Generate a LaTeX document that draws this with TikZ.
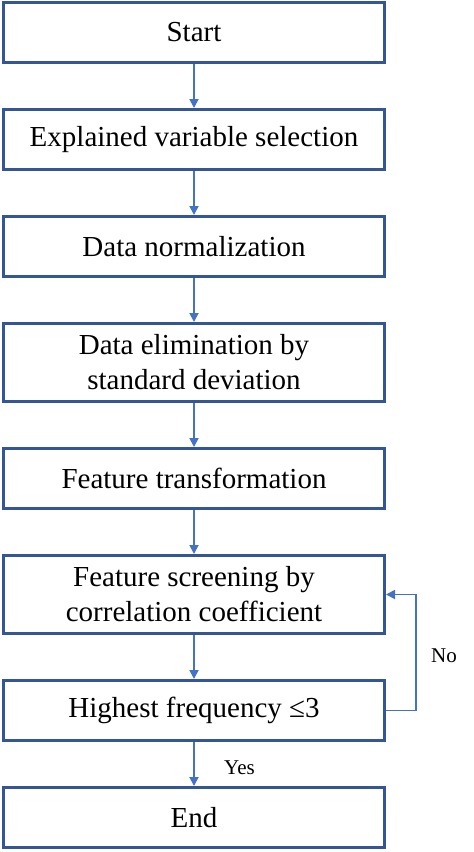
\documentclass[tikz,border=0pt]{standalone}
\usepackage{fontspec}
\setmainfont{Liberation Serif}
\usepackage{xcolor}
\usetikzlibrary{positioning, arrows.meta, calc}

\definecolor{boxblue}{RGB}{52,86,150}
\definecolor{arrowblue}{RGB}{68,114,196}

\begin{document}
\begin{tikzpicture}[
		x=1pt, y=1pt,
		>={Triangle[length=9pt,width=9pt]},
		node distance=44pt,
		stepbox/.style={draw=boxblue, line width=2.6pt, minimum width=381.4pt, minimum height=60.4pt,
			align=center, font=\fontsize{29}{35}\selectfont, inner sep=2pt},
		tallbox/.style={stepbox, minimum height=78.4pt},
		flow/.style={->, arrowblue, line width=1.8pt},
		answer/.style={text=black, font=\fontsize{21}{25}\selectfont}
		]
		
		\useasboundingbox (0,0) rectangle (474,-852);
		
		% ==========================================
		% MAIN STEPS
		% ==========================================
		\node[stepbox] (start) at (194,-32.5) {Start};
		\node[stepbox, below=of start] (select) {Explained variable selection};
		\node[stepbox, below=of select] (norm) {Data normalization};
		\node[tallbox, below=of norm] (elim) {Data elimination by\\ standard deviation};
		\node[stepbox, below=of elim] (trans) {Feature transformation};
		\node[tallbox, below=of trans] (screen) {Feature screening by\\ correlation coefficient};
		\node[stepbox, below=of screen] (check) {Highest frequency ≤3};
		\node[stepbox, below=of check] (end) {End};
		
		% ==========================================
		% CONNECTORS
		% ==========================================
		\draw[flow] (start) -- (select);
		\draw[flow] (select) -- (norm);
		\draw[flow] (norm) -- (elim);
		\draw[flow] (elim) -- (trans);
		\draw[flow] (trans) -- (screen);
		\draw[flow] (screen) -- (check);
		\draw[flow] (check) -- (end) node[midway, right=26pt, yshift=-4pt, answer] {Yes};
		
		% Loop back
		\draw[flow] (check.east) -- ++(30,0) coordinate (loop)
		-- (loop |- screen.east) node[midway, right=11pt, yshift=-3pt, answer] {No}
		-- (screen.east);
		
	\end{tikzpicture}
\end{document}
